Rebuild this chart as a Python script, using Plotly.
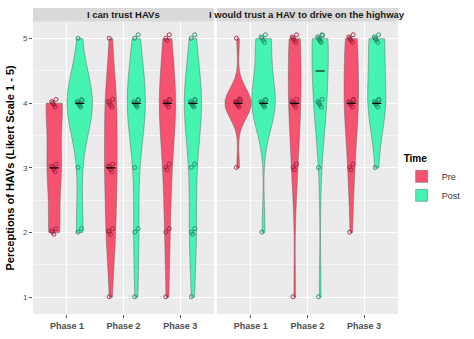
import numpy as np
import plotly.graph_objects as go

# ---------------- data ----------------
phases = ["Phase 1", "Phase 2", "Phase 3"]
panels = ["I can trust HAVs", "I would trust a HAV to drive on the highway"]
levels = [1, 2, 3, 4, 5]
groups = ["Pre", "Post"]

# counts of responses at Likert levels 1..5, per phase
trust_pre = [[0, 4, 5, 6, 0], [1, 4, 5, 5, 1], [1, 2, 3, 7, 3]]
trust_post = [[0, 2, 1, 8, 1], [1, 2, 1, 8, 2], [1, 3, 2, 8, 2]]
highway_pre = [[0, 0, 1, 10, 1], [1, 0, 3, 6, 6], [0, 1, 3, 7, 6]]
highway_post = [[0, 1, 0, 8, 5], [1, 0, 1, 6, 8], [0, 0, 1, 7, 6]]

y_ticks = [1, 2, 3, 4, 5]
y_title = "Perceptions of HAVs (Likert Scale 1 - 5)"
legend_title = "Time"

# ---------------- style ----------------
fill = {"Pre": "#F7526F", "Post": "#45F4B3"}
pt_col = {"Pre": "#A3203E", "Post": "#1E8C63"}
dodge = {"Pre": -0.225, "Post": 0.225}
px_per_unit = 62.5
widths_px = {
    (0, "Pre"): [18, 14, 18], (0, "Post"): [28, 20, 19],
    (1, "Pre"): [29, 14, 16], (1, "Post"): [26, 18, 20],
}
bw_adjust = {
    (0, "Pre"): [1.0, 1.0, 1.0], (0, "Post"): [1.0, 1.0, 1.0],
    (1, "Pre"): [1.0, 1.0, 1.2], (1, "Post"): [1.0, 1.0, 1.4],
}

panel_data = [
    {"Pre": trust_pre, "Post": trust_post},
    {"Pre": highway_pre, "Post": highway_post},
]


def expand(counts):
    return np.repeat(levels, counts).astype(float)


def bandwidth(v):
    sd = np.std(v, ddof=1)
    return 0.9 * sd * len(v) ** (-0.2)


def jitter_offsets(counts):
    dx, dy = [], []
    for c in counts:
        for k in range(c):
            dx.append((((k * 0.618 + 0.21) % 1) - 0.5) * 0.10)
            dy.append((((k * 0.382 + 0.55) % 1) - 0.5) * 0.14)
    return np.array(dx), np.array(dy)


FONT = "Liberation Sans, Arial"
fig = go.Figure()
xaxes = ["x", "x2"]
shown = set()
for p in range(2):
    for g in groups:
        for i, ph in enumerate(phases):
            counts = panel_data[p][g][i]
            vals = expand(counts)
            pos = i + 1 + dodge[g]
            w = widths_px[(p, g)][i] / px_per_unit
            fig.add_trace(go.Violin(
                x=[pos] * len(vals), y=vals,
                xaxis=xaxes[p], yaxis="y",
                name=g, legendgroup=g, showlegend=(g not in shown),
                width=w, scalemode="width", spanmode="hard",
                bandwidth=bandwidth(vals) * bw_adjust[(p, g)][i],
                fillcolor=fill[g], opacity=1,
                line=dict(color="rgba(90,90,90,0.75)", width=0.6),
                points=False, hoverinfo="skip",
            ))
            shown.add(g)
            dx, dy = jitter_offsets(counts)
            fig.add_trace(go.Scatter(
                x=pos + dx, y=vals + dy,
                xaxis=xaxes[p], yaxis="y", mode="markers",
                marker=dict(symbol="circle-open", size=4, color=pt_col[g],
                            line=dict(width=0.9, color=pt_col[g])),
                showlegend=False, hoverinfo="skip",
            ))
            med = float(np.median(vals))
            fig.add_trace(go.Scatter(
                x=[pos - 0.08, pos + 0.08], y=[med, med],
                xaxis=xaxes[p], yaxis="y", mode="lines",
                line=dict(color="black", width=1.2),
                showlegend=False, hoverinfo="skip",
            ))

W, H = 474, 339
ml, mr, mt, mb = 33, 38, 8, 22
plot_w = W - ml - mr
plot_h = H - mt - mb
strip_px = 14
gap_px = 3
d1 = (plot_w - gap_px) / 2 / plot_w
ytop = (plot_h - strip_px) / plot_h

axis_common = dict(
    range=[0.4, 3.6], tickvals=[1, 2, 3],
    ticktext=["<b>" + t + "</b>" for t in phases],
    showgrid=True, gridcolor="white", gridwidth=1.1, zeroline=False,
    ticks="outside", ticklen=3, tickcolor="#555555",
    tickfont=dict(family=FONT, size=9, color="#4D4D4D"),
    showline=False,
)
fig.update_layout(
    width=W, height=H,
    margin=dict(l=ml, r=mr, t=mt, b=mb),
    paper_bgcolor="white", plot_bgcolor="#EBEBEB",
    xaxis=dict(domain=[0, d1], anchor="y", **axis_common),
    xaxis2=dict(domain=[1 - d1, 1], anchor="y", **axis_common),
    yaxis=dict(
        domain=[0, ytop], range=[0.74, 5.26], tickvals=y_ticks,
        showgrid=True, gridcolor="white", gridwidth=1.1, zeroline=False,
        minor=dict(dtick=0.5, tick0=0.5, showgrid=True, gridcolor="#F5F5F5", gridwidth=0.6),
        ticks="outside", ticklen=3, tickcolor="#555555",
        tickfont=dict(family=FONT, size=8, color="#4D4D4D"),
        title=dict(text="<b>" + y_title + "</b>", standoff=6,
                   font=dict(family=FONT, size=11, color="black")),
    ),
    showlegend=True,
    legend=dict(
        x=1.01, xanchor="left", y=0.44, yanchor="middle",
        title=dict(text="<b>" + legend_title + "</b>",
                   font=dict(family=FONT, size=10, color="black")),
        font=dict(family=FONT, size=9, color="#333333"),
        tracegroupgap=0, itemwidth=30, bgcolor="rgba(0,0,0,0)",
    ),
    font=dict(family=FONT),
)

# facet strips
for p, (x0, x1) in enumerate([(0, d1), (1 - d1, 1)]):
    fig.add_shape(type="rect", xref="paper", yref="paper",
                  x0=x0, x1=x1, y0=ytop, y1=1,
                  fillcolor="#D9D9D9", line=dict(width=0), layer="below")
    fig.add_annotation(text="<b>" + panels[p] + "</b>", xref="paper", yref="paper",
                       x=(x0 + x1) / 2, y=(ytop + 1) / 2, showarrow=False,
                       xanchor="center", yanchor="middle",
                       font=dict(family=FONT, size=9.5, color="#1A1A1A"))

fig.write_html("out.html")
